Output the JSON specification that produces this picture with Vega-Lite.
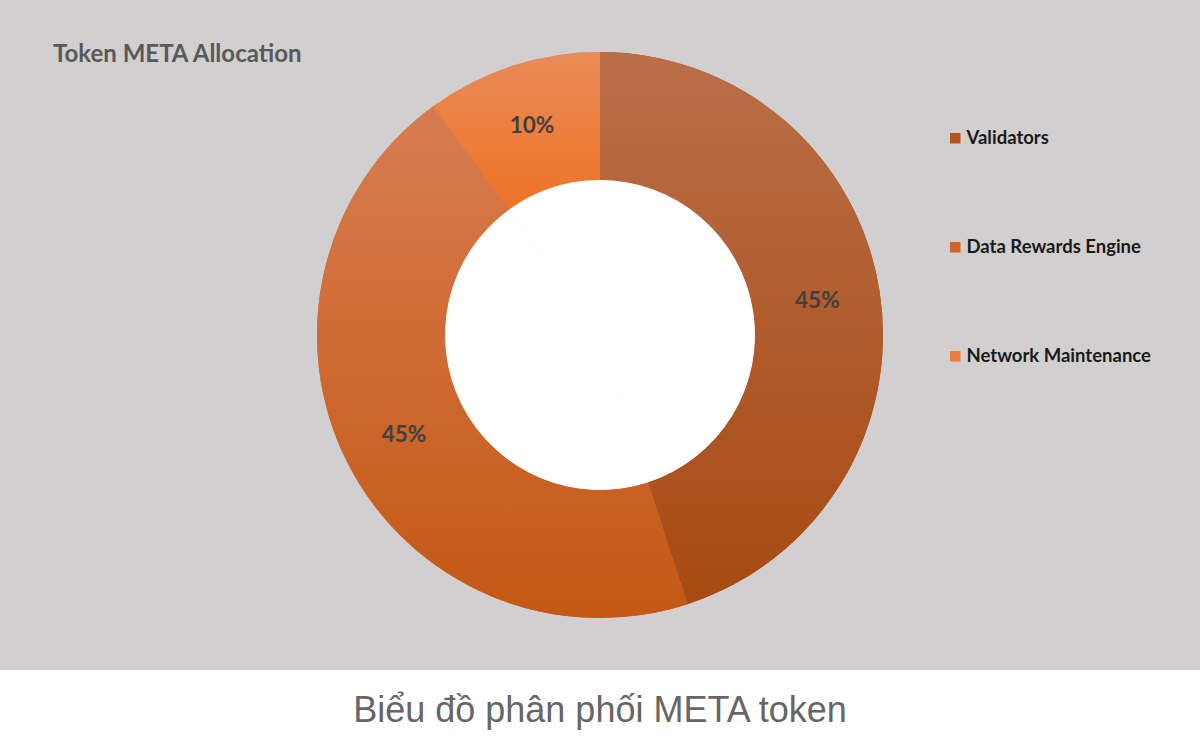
{
  "$schema": "https://vega.github.io/schema/vega-lite/v6.json",
  "background": "white",
  "padding": 0,
  "spacing": 0,
  "config": {"view": {"stroke": null}, "concat": {"spacing": 0}},
  "vconcat": [
    {
      "width": 1200,
      "height": 670,
      "view": {"fill": "#d1cfcf", "stroke": null},
      "title": {
        "text": "Token META Allocation",
        "anchor": "start",
        "frame": "group",
        "orient": "top",
        "offset": -86,
        "baseline": "alphabetic",
        "dx": 53,
        "font": "Lato",
        "fontSize": 24,
        "fontWeight": "bold",
        "color": "#595959"
      },
      "data": {
        "values": [
          {"category": "Validators", "value": 45, "label": "45%", "order": 1},
          {"category": "Data Rewards Engine", "value": 45, "label": "45%", "order": 2},
          {"category": "Network Maintenance", "value": 10, "label": "10%", "order": 3}
        ]
      },
      "transform": [
        {"stack": "value", "groupby": [], "sort": [{"field": "order"}], "as": ["v0", "v1"]}
      ],
      "layer": [
        {
          "mark": {"type": "arc", "radius": 283, "innerRadius": 154},
          "encoding": {
            "theta": {"field": "v0", "type": "quantitative", "scale": {"domain": [0, 100]}},
            "theta2": {"field": "v1"},
            "color": {
              "field": "category",
              "type": "nominal",
              "sort": ["Validators", "Data Rewards Engine", "Network Maintenance"],
              "scale": {
                "domain": ["Validators", "Data Rewards Engine", "Network Maintenance"],
                "range": ["#b4531c", "#d2642a", "#ee7c38"]
              },
              "legend": {
                "orient": "none",
                "legendX": 946,
                "legendY": 129,
                "title": null,
                "symbolType": "square",
                "symbolSize": 110,
                "symbolStrokeWidth": 0,
                "labelFont": "Lato",
                "labelFontWeight": "bold",
                "labelFontSize": 18.5,
                "labelColor": "#1a1a1a",
                "labelOffset": 2,
                "labelLimit": 400,
                "rowPadding": 90
              }
            }
          }
        },
        {
          "transform": [{"filter": "datum.category === 'Validators'"}],
          "mark": {
            "type": "arc", "radius": 283, "innerRadius": 154,
            "fill": {"gradient": "linear", "x1": 0, "y1": 0, "x2": 0, "y2": 1,
              "stops": [{"offset": 0, "color": "#ba6e48"}, {"offset": 1, "color": "#a74a12"}]}
          },
          "encoding": {
            "theta": {"field": "v0", "type": "quantitative"},
            "theta2": {"field": "v1"}
          }
        },
        {
          "transform": [{"filter": "datum.category === 'Data Rewards Engine'"}],
          "mark": {
            "type": "arc", "radius": 283, "innerRadius": 154,
            "fill": {"gradient": "linear", "x1": 0, "y1": 0, "x2": 0, "y2": 1,
              "stops": [{"offset": 0, "color": "#d87c50"}, {"offset": 1, "color": "#c45814"}]}
          },
          "encoding": {
            "theta": {"field": "v0", "type": "quantitative"},
            "theta2": {"field": "v1"}
          }
        },
        {
          "transform": [{"filter": "datum.category === 'Network Maintenance'"}],
          "mark": {
            "type": "arc", "radius": 283, "innerRadius": 154,
            "fill": {"gradient": "linear", "x1": 0, "y1": 0, "x2": 0, "y2": 1,
              "stops": [{"offset": 0, "color": "#e98b58"}, {"offset": 1, "color": "#ee7325"}]}
          },
          "encoding": {
            "theta": {"field": "v0", "type": "quantitative"},
            "theta2": {"field": "v1"}
          }
        },
        {
          "mark": {"type": "arc", "radius": 154.5, "fill": "white", "stroke": "white", "strokeWidth": 1},
          "encoding": {
            "theta": {"field": "v0", "type": "quantitative"},
            "theta2": {"field": "v1"}
          }
        },
        {
          "mark": {"type": "text", "radius": 220, "font": "Lato", "fontWeight": "bold", "fontSize": 22.5, "color": "#404040"},
          "encoding": {
            "theta": {"field": "value", "type": "quantitative", "stack": true},
            "order": {"field": "order"},
            "text": {"field": "label"}
          }
        }
      ]
    },
    {
      "width": 1200,
      "height": 69,
      "view": {"fill": "white", "stroke": null},
      "data": {"values": [{"caption": "Biểu đồ phân phối META token"}]},
      "mark": {"type": "text", "font": "Liberation Sans", "fontSize": 36, "color": "#666666", "baseline": "alphabetic", "dy": 17},
      "encoding": {"text": {"field": "caption"}}
    }
  ]
}
